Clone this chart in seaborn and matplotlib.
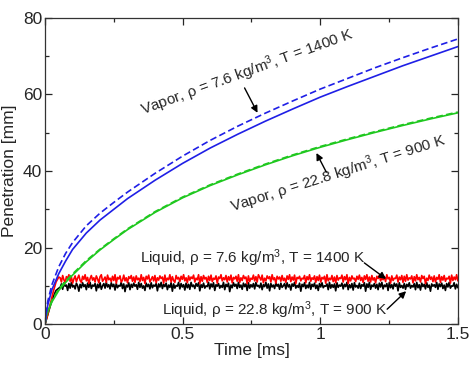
import numpy as np
import matplotlib
matplotlib.use("Agg")
import matplotlib.pyplot as plt
from matplotlib.ticker import MultipleLocator
import seaborn as sns

# vapor penetration curves
t_vap = [0, 0.005, 0.01, 0.025, 0.05, 0.075, 0.1, 0.15, 0.2, 0.25, 0.3, 0.4,
         0.5, 0.6, 0.7, 0.8, 0.9, 1.0, 1.1, 1.2, 1.3, 1.4, 1.5]
vap_76_solid = [0, 3.0, 5.0, 9.0, 13.2, 16.5, 19.5, 23.8, 27.2, 30.0, 32.8, 37.6,
                42.0, 46.0, 49.6, 53.0, 56.2, 59.3, 62.1, 64.8, 67.5, 70.0, 72.5]
vap_76_dash = [0, 3.6, 6.0, 10.3, 15.0, 18.5, 21.3, 25.7, 29.0, 31.8, 34.5, 39.4,
               43.9, 48.0, 51.7, 55.1, 58.3, 61.4, 64.2, 67.0, 69.6, 72.1, 74.5]
vap_228_solid = [0, 2.0, 3.2, 5.8, 8.8, 10.9, 12.8, 16.3, 19.4, 22.1, 24.7, 29.2,
                 33.0, 36.2, 39.0, 41.6, 44.0, 46.2, 48.2, 50.1, 51.9, 53.6, 55.2]
vap_228_dash = [0, 2.2, 3.5, 6.2, 9.2, 11.3, 13.1, 16.6, 19.6, 22.3, 24.9, 29.4,
                33.2, 36.4, 39.2, 41.8, 44.2, 46.4, 48.4, 50.3, 52.1, 53.8, 55.4]

# liquid length: initial rise then fluctuating plateau
t_rise = [0, 0.01, 0.02, 0.03, 0.04, 0.05]
liq_76_rise = [0, 2.5, 5.5, 8.5, 11.0, 12.3]
liq_228_rise = [0, 2.5, 5.0, 7.2, 8.8, 9.4]

liq_76_plateau = [
    12.1, 11.0, 12.7, 11.6, 10.8, 12.4, 11.9, 12.9, 11.2, 12.3, 10.7, 11.8, 12.6, 11.1, 12.0, 12.8, 11.4, 10.9, 12.5, 11.7,
    12.9, 11.3, 12.2, 10.6, 11.9, 12.7, 11.5, 12.1, 11.0, 12.6, 11.8, 10.8, 12.4, 12.9, 11.2, 11.7, 12.3, 10.9, 12.8, 11.6,
    12.0, 11.1, 12.5, 11.4, 12.9, 10.7, 12.2, 11.8, 12.6, 11.0, 11.5, 12.8, 11.3, 12.1, 10.8, 12.4, 11.9, 12.7, 11.2, 12.3,
    10.9, 12.6, 11.6, 12.0, 11.1, 12.9, 11.4, 12.2, 10.6, 12.5, 11.8, 12.8, 11.0, 11.7, 12.4, 11.3, 12.7, 10.8, 12.1, 11.5,
    12.6, 11.9, 12.3, 10.7, 12.8, 11.2, 12.0, 11.6, 12.9, 11.0, 12.4, 11.4, 10.9, 12.7, 11.8, 12.2, 11.1, 12.5, 11.7, 12.9,
    11.3, 12.1, 10.8, 12.6, 11.5, 12.3, 11.9, 12.8, 11.0, 12.0, 11.6, 12.9, 10.6, 12.4, 11.2, 12.7, 11.8, 12.2, 10.9, 12.5,
    11.4, 12.8, 11.1, 12.0, 11.7, 12.6, 10.7, 12.3, 11.9, 12.9, 11.3, 12.1, 11.6, 12.7, 11.0, 12.4, 11.5, 12.8, 10.8, 12.2,
    11.8, 12.5, 11.2, 12.9, 10.9, 12.1, 11.4, 12.7, 11.9, 12.3, 10.6, 12.6, 11.1, 12.0, 11.7, 12.8, 11.3, 12.4, 11.0, 12.9,
    12.2, 11.5, 12.8, 10.8, 12.0, 11.3, 12.6, 11.9, 12.4, 11.0, 12.9, 11.6, 12.1, 10.7, 12.5, 11.8, 12.3, 11.2, 12.7, 11.4,
    12.0, 10.9, 12.6, 11.7, 12.9, 11.1, 12.3, 11.5, 12.8, 10.6, 12.2, 11.9, 12.5, 11.3, 12.0, 11.8, 12.7, 10.8, 12.4, 11.6,
    12.9, 11.2, 12.1, 11.7, 12.6, 10.9, 12.4, 11.4, 12.8, 11.0, 12.2, 11.8, 12.5, 10.7, 12.9, 11.3, 12.0, 11.6, 12.7, 11.1,
    12.3, 10.8, 12.7, 11.5, 12.1, 11.9, 12.8, 11.0, 12.4, 11.6, 12.9, 10.6, 12.2, 11.3, 12.6, 11.8, 12.0, 11.1, 12.5, 11.7,
    12.8, 11.4, 12.2, 10.9, 12.6, 11.7, 12.9, 11.2, 12.3, 11.0, 12.7, 11.5, 12.1, 10.8, 12.5, 11.9, 12.8, 11.3, 12.0, 11.6,
    12.4, 11.1, 12.9, 11.8, 12.2, 10.7, 12.6, 11.4, 12.0, 11.9, 12.8, 11.0, 12.3, 11.6, 12.7, 10.9, 12.5, 11.2, 12.9, 11.5,
    12.1, 11.8, 12.6, 10.8, 12.4, 11.3, 12.9, 11.6, 12.2, 11.0, 12.7, 11.9, 12.5, 10.6, 12.0, 11.4, 12.8, 11.7, 12.3, 11.1,
    12.6, 11.0, 12.2, 11.7, 12.9, 10.9, 12.4, 11.5, 12.7, 11.2, 12.0, 11.8, 12.5, 10.7, 12.8, 11.4, 12.3, 11.6, 12.9, 11.3,
]
liq_228_plateau = [
    9.6, 10.5, 9.1, 10.8, 9.9, 10.2, 8.8, 10.6, 9.4, 10.9, 9.7, 10.1, 9.2, 10.7, 10.0, 8.6, 10.4, 9.5, 10.8, 9.8,
    10.3, 9.0, 10.7, 9.6, 10.9, 9.3, 10.2, 9.9, 10.6, 8.7, 10.4, 9.5, 10.8, 9.1, 10.0, 10.6, 9.4, 10.9, 9.7, 10.3,
    9.2, 10.8, 9.8, 10.4, 8.9, 10.6, 9.5, 10.1, 9.9, 10.9, 9.3, 10.5, 8.5, 10.2, 9.7, 10.8, 9.0, 10.4, 9.6, 10.7,
    9.9, 10.3, 9.1, 10.9, 9.6, 10.6, 9.4, 10.0, 8.8, 10.7, 9.8, 10.4, 9.2, 10.8, 9.5, 10.2, 9.9, 10.6, 8.7, 10.5,
    9.7, 10.9, 9.3, 10.4, 9.8, 10.7, 9.0, 10.2, 9.6, 10.8, 8.6, 10.5, 9.4, 10.1, 9.9, 10.9, 9.2, 10.6, 9.7, 10.3,
    8.9, 10.7, 9.5, 10.4, 9.1, 10.9, 9.8, 10.2, 9.3, 10.6, 9.9, 10.8, 8.7, 10.3, 9.6, 10.7, 9.4, 10.0, 9.8, 10.9,
    9.2, 10.5, 9.7, 10.8, 8.8, 10.3, 9.9, 10.6, 9.4, 10.1, 9.6, 10.9, 9.0, 10.4, 9.8, 10.7, 8.5, 10.2, 9.5, 10.8,
    9.9, 10.4, 9.3, 10.9, 9.6, 10.2, 9.1, 10.7, 9.8, 10.5, 8.8, 10.8, 9.4, 10.3, 9.7, 10.6, 9.2, 10.9, 9.9, 10.1,
    9.5, 10.7, 9.0, 10.3, 9.8, 10.9, 9.4, 10.5, 8.7, 10.6, 9.7, 10.2, 9.3, 10.8, 9.9, 10.4, 9.1, 10.7, 9.6, 10.0,
    10.6, 9.2, 10.8, 9.7, 10.3, 8.9, 10.5, 9.9, 10.9, 9.4, 10.1, 9.6, 10.7, 8.6, 10.4, 9.8, 10.8, 9.3, 10.2, 9.5,
    10.9, 9.1, 10.4, 9.8, 10.7, 9.3, 10.2, 8.8, 10.6, 9.7, 10.8, 9.5, 10.0, 9.9, 10.5, 9.0, 10.9, 9.4, 10.3, 9.6,
    10.5, 8.7, 10.8, 9.6, 10.2, 9.9, 10.7, 9.2, 10.4, 9.8, 10.9, 9.0, 10.3, 9.5, 10.6, 8.9, 10.8, 9.7, 10.1, 9.4,
    10.7, 9.3, 10.3, 9.9, 10.8, 8.6, 10.5, 9.6, 10.9, 9.1, 10.2, 9.8, 10.6, 9.4, 10.4, 9.0, 10.7, 9.7, 10.9, 9.2,
    10.2, 9.8, 10.6, 8.8, 10.9, 9.5, 10.3, 9.2, 10.7, 9.9, 10.5, 8.7, 10.8, 9.6, 10.1, 9.4, 10.6, 9.1, 10.4, 9.8,
    10.8, 9.4, 10.1, 9.7, 10.6, 9.0, 10.9, 9.5, 10.3, 8.9, 10.7, 9.8, 10.4, 9.2, 10.8, 9.6, 10.2, 8.6, 10.5, 9.9,
    10.3, 9.6, 10.9, 9.1, 10.5, 9.8, 10.7, 9.3, 10.2, 8.8, 10.6, 9.7, 10.9, 9.4, 10.0, 9.9, 10.8, 9.2, 10.4, 9.5,
]

BLUE = "#1f1fe6"
GREEN = "#1fc81f"
RED = "#ff0000"

sns.set_style("ticks")
plt.rcParams["font.family"] = ["Liberation Sans", "DejaVu Sans"]
plt.rcParams["mathtext.fontset"] = "custom"
plt.rcParams["mathtext.rm"] = "Liberation Sans"
plt.rcParams["mathtext.it"] = "Liberation Sans:italic"

fig = plt.figure(figsize=(4.74, 3.65), dpi=100)
ax = fig.add_axes([0.095, 0.112, 0.871, 0.839])

t_plat = np.linspace(0.055, 1.5, len(liq_76_plateau))
t_liq = np.concatenate([t_rise, t_plat])
red = np.concatenate([liq_76_rise, liq_76_plateau])
blk = np.concatenate([liq_228_rise, liq_228_plateau])

sns.lineplot(x=t_liq, y=blk, ax=ax, color="black", lw=1.2, sort=False, estimator=None)
sns.lineplot(x=t_liq, y=red, ax=ax, color=RED, lw=1.2, sort=False, estimator=None)

sns.lineplot(x=t_vap, y=vap_228_dash, ax=ax, color=GREEN, lw=1.2, linestyle=(0, (4, 2)))
sns.lineplot(x=t_vap, y=vap_228_solid, ax=ax, color=GREEN, lw=1.2)
sns.lineplot(x=t_vap, y=vap_76_dash, ax=ax, color=BLUE, lw=1.2, linestyle=(0, (4, 2)))
sns.lineplot(x=t_vap, y=vap_76_solid, ax=ax, color=BLUE, lw=1.2)

ax.set_xlim(0, 1.5)
ax.set_ylim(0, 80)
ax.set_xticks([0, 0.5, 1, 1.5])
ax.set_xticklabels(["0", "0.5", "1", "1.5"])
ax.set_yticks([0, 20, 40, 60, 80])
ax.xaxis.set_minor_locator(MultipleLocator(0.25))
ax.yaxis.set_minor_locator(MultipleLocator(10))
ax.tick_params(which="both", direction="in", top=True, right=True,
               labelsize=12.5, pad=2, width=0.9)
ax.tick_params(which="major", length=5)
ax.tick_params(which="minor", length=3)
for s in ax.spines.values():
    s.set_linewidth(0.9)
    s.set_color("#333333")

ax.set_xlabel("Time [ms]", fontsize=12.5, labelpad=1)
ax.set_ylabel("Penetration [mm]", fontsize=12.5, labelpad=4)

fs = 11
ax.text(0.355, 54.6, "Vapor, ρ = 7.6 kg/m$^3$, T = 1400 K", fontsize=fs,
        rotation=20, rotation_mode="anchor", ha="left", va="baseline")
ax.text(0.681, 29.3, "Vapor, ρ = 22.8 kg/m$^3$, T = 900 K", fontsize=fs,
        rotation=17.5, rotation_mode="anchor", ha="left", va="baseline")
ax.text(0.344, 16.0, "Liquid, ρ = 7.6 kg/m$^3$, T = 1400 K", fontsize=fs,
        ha="left", va="baseline")
ax.text(0.424, 2.35, "Liquid, ρ = 22.8 kg/m$^3$, T = 900 K", fontsize=fs,
        ha="left", va="baseline")

arrow = dict(arrowstyle="-|>", color="black", lw=1.0, mutation_scale=10,
             shrinkA=0, shrinkB=0)
ax.annotate("", xy=(0.772, 55.2), xytext=(0.725, 61.7), arrowprops=arrow)
ax.annotate("", xy=(0.986, 44.7), xytext=(1.022, 39.7), arrowprops=arrow)
ax.annotate("", xy=(1.239, 11.8), xytext=(1.16, 16.0), arrowprops=arrow)
ax.annotate("", xy=(1.312, 8.6), xytext=(1.243, 3.9), arrowprops=arrow)

fig.savefig("out.png", dpi=100)
